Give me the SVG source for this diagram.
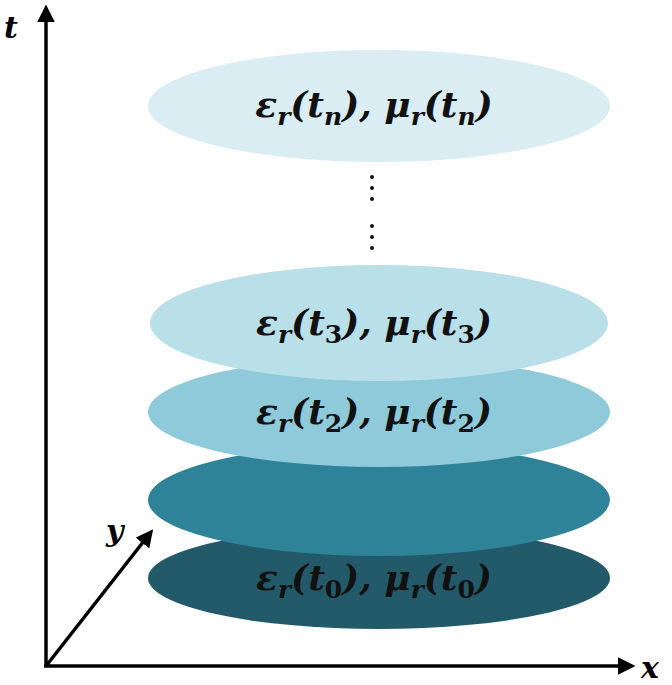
<svg xmlns="http://www.w3.org/2000/svg" width="672" height="685" viewBox="0 0 672 685">
<style>
.l{font-family:"DejaVu Serif","Liberation Serif",serif;font-weight:bold;font-style:italic;font-size:36px;fill:#111;text-anchor:middle}
.s{font-size:25px}
.u{font-style:normal}
.ax{stroke:#000;stroke-width:3.5;fill:none}
.al{font-family:"DejaVu Serif","Liberation Serif",serif;font-weight:bold;font-style:italic;font-size:30px;fill:#000}
</style>
<defs><marker id="ah" viewBox="0 0 10 10" refX="8" refY="5" markerWidth="5" markerHeight="5" orient="auto"><path d="M0,0L10,5L0,10z" fill="#000"/></marker></defs>
<g id="e0"><ellipse cx="379" cy="578" rx="231" ry="51" fill="#235a6a"/><text class="l" x="374" y="590">ε<tspan class="s" dy="8">r</tspan><tspan dy="-8">(t</tspan><tspan class="s u" dy="8">0</tspan><tspan dy="-8">), μ</tspan><tspan class="s" dy="8">r</tspan><tspan dy="-8">(t</tspan><tspan class="s u" dy="8">0</tspan><tspan dy="-8">)</tspan></text></g>
<g id="e1"><ellipse cx="379" cy="500" rx="231" ry="56" fill="#2e8399"/></g>
<g id="e2"><ellipse cx="379" cy="412" rx="231" ry="55" fill="#8fcadb"/><text class="l" x="374" y="424">ε<tspan class="s" dy="8">r</tspan><tspan dy="-8">(t</tspan><tspan class="s u" dy="8">2</tspan><tspan dy="-8">), μ</tspan><tspan class="s" dy="8">r</tspan><tspan dy="-8">(t</tspan><tspan class="s u" dy="8">2</tspan><tspan dy="-8">)</tspan></text></g>
<g id="e3"><ellipse cx="379" cy="323" rx="229" ry="58" fill="#b9dfe9"/><text class="l" x="374" y="335">ε<tspan class="s" dy="8">r</tspan><tspan dy="-8">(t</tspan><tspan class="s u" dy="8">3</tspan><tspan dy="-8">), μ</tspan><tspan class="s" dy="8">r</tspan><tspan dy="-8">(t</tspan><tspan class="s u" dy="8">3</tspan><tspan dy="-8">)</tspan></text></g>
<g id="en"><ellipse cx="379" cy="106" rx="231" ry="56" fill="#d9edf3"/><text class="l" x="374" y="117">ε<tspan class="s" dy="8">r</tspan><tspan dy="-8">(t</tspan><tspan class="s" dy="8">n</tspan><tspan dy="-8">), μ</tspan><tspan class="s" dy="8">r</tspan><tspan dy="-8">(t</tspan><tspan class="s" dy="8">n</tspan><tspan dy="-8">)</tspan></text></g>
<g id="dots" fill="#111"><circle cx="372" cy="177" r="2"/><circle cx="372" cy="188" r="2"/><circle cx="372" cy="199" r="2"/><circle cx="372" cy="226" r="2"/><circle cx="372" cy="237" r="2"/><circle cx="372" cy="248" r="2"/></g>
<g id="connectors">
<line class="ax" x1="46" y1="667" x2="46" y2="8" marker-end="url(#ah)"/>
<line class="ax" x1="44" y1="666" x2="632" y2="666" marker-end="url(#ah)"/>
<line class="ax" x1="46" y1="666" x2="151" y2="532" marker-end="url(#ah)"/>
</g>
<text class="al" x="4" y="38">t</text>
<text class="al" x="641" y="678">x</text>
<text class="al" x="106" y="541">y</text>
</svg>
